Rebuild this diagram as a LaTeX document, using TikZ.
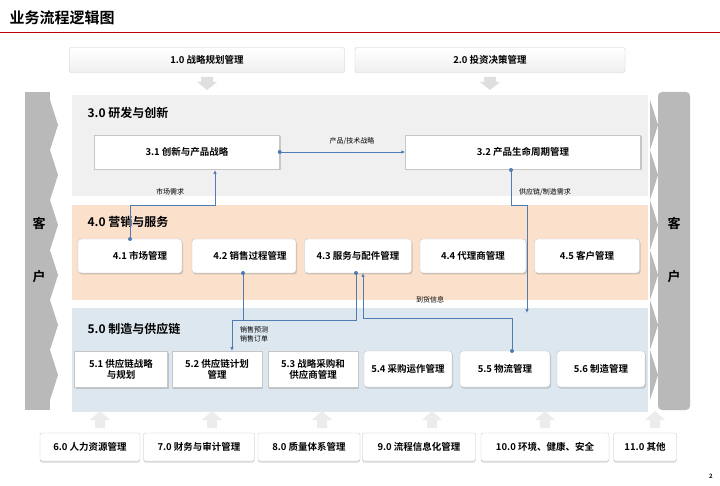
\documentclass[tikz,border=0pt]{standalone}
\usepackage{fontspec}
\setmainfont{Noto Sans CJK SC}[BoldFont={Noto Sans CJK SC Bold}]
\usetikzlibrary{arrows.meta,shadows}
\definecolor{lk}{HTML}{4F7DB3}
\definecolor{peach}{HTML}{FBE0CC}
\definecolor{bluish}{HTML}{DDE7F0}
\definecolor{bandgray}{HTML}{F0F0F0}
\begin{document}
\begin{tikzpicture}[x=1pt,y=-1pt,
  box/.style={draw=gray!45,fill=white,rounded corners=3pt,drop shadow={shadow xshift=1pt,shadow yshift=-1.5pt,opacity=0.35},font=\bfseries\fontsize{9.5}{11}\selectfont,align=center,inner sep=1pt},
  topbox/.style={draw=gray!40,top color=white,bottom color=gray!12,rounded corners=2pt,font=\bfseries\fontsize{9.5}{11}\selectfont},
  btm/.style={draw=gray!40,fill=white,rounded corners=2pt,drop shadow={shadow xshift=0pt,shadow yshift=-1.5pt,opacity=0.3},font=\bfseries\fontsize{9.5}{11}\selectfont,inner sep=1pt},
  btitle/.style={anchor=west,font=\bfseries\fontsize{12}{13}\selectfont},
  lnk/.style={draw=lk,line width=0.8pt},
  arr/.style={lnk,-{Latex[length=4pt,width=3.5pt]}},
  dot/.style={circle,fill=lk,inner sep=0pt,minimum size=4pt},
  lab/.style={font=\fontsize{7}{9}\selectfont,align=left}]
\useasboundingbox (0,0) rectangle (720,486);
\fill[white] (0,0) rectangle (720,486);
\node[anchor=west,font=\bfseries\fontsize{15}{17}\selectfont] (title) at (6,18) {业务流程逻辑图};
\draw[red!75!black,line width=1pt] (0,33) -- (720,33);
% top
\node[topbox,minimum width=275pt,minimum height=25pt] (b1) at (207,60) {1.0 战略规划管理};
\node[topbox,minimum width=270pt,minimum height=25pt] (b2) at (490,60) {2.0 投资决策管理};
\foreach \x in {207,490}{\fill[gray!25] (\x-6,77)--(\x+6,77)--(\x+6,82)--(\x+10,82)--(\x,90)--(\x-10,82)--(\x-6,82)--cycle;}
% customers
\fill[gray!55] (25,92) -- (50,92) -- (50,410) -- (25,410) -- cycle;
\foreach \y in {100,150,200,250,300,350}{\fill[gray!55] (50,\y) -- (58,\y+25) -- (50,\y+50) -- cycle;}
\node[font=\bfseries\fontsize{13}{15}\selectfont,align=center] (c1) at (39,250) {客\\[38pt]户};
\fill[gray!55,rounded corners=4pt] (658,92) rectangle (690,410);
\foreach \y in {100,150,200,250,300,350}{\fill[gray!55] (650,\y) -- (658,\y+25) -- (650,\y+50) -- cycle;}
\node[font=\bfseries\fontsize{13}{15}\selectfont,align=center] (c2) at (674,250) {客\\[38pt]户};
% bands
\fill[bandgray] (72,95) rectangle (648,196);
\fill[peach] (72,205) rectangle (648,300);
\fill[bluish] (72,308) rectangle (648,412);
\node[btitle] (t3) at (84,113) {3.0 研发与创新};
\node[btitle] (t4) at (84,222) {4.0 营销与服务};
\node[btitle] (t5) at (84,329) {5.0 制造与供应链};
% 3.x
\node[box,rounded corners=0pt,minimum width=185pt,minimum height=34pt] (p31) at (187,152) {3.1 创新与产品战略};
\node[box,rounded corners=0pt,minimum width=235pt,minimum height=34pt] (p32) at (523,152) {3.2 产品生命周期管理};
% 4.x
\node[box,minimum width=104pt,minimum height=34pt] (p41) at (130,256) {\hspace{20pt}4.1 市场管理};
\node[box,minimum width=104pt,minimum height=34pt] (p42) at (244,256) {\hspace{12pt}4.2 销售过程管理};
\node[box,minimum width=107pt,minimum height=34pt] (p43) at (358,256) {4.3 服务与配件管理};
\node[box,minimum width=106pt,minimum height=34pt] (p44) at (473,256) {4.4 代理商管理};
\node[box,minimum width=105pt,minimum height=34pt] (p45) at (587,256) {4.5 客户管理};
% 5.x
\node[box,rounded corners=0pt,minimum width=93pt,minimum height=36pt] (p51) at (121,369) {5.1 供应链战略\\与规划};
\node[box,rounded corners=0pt,minimum width=90pt,minimum height=36pt] (p52) at (217,369) {5.2 供应链计划\\管理};
\node[box,rounded corners=0pt,minimum width=90pt,minimum height=36pt] (p53) at (313,369) {5.3 战略采购和\\供应商管理};
\node[box,minimum width=88pt,minimum height=36pt] (p54) at (408,369) {5.4 采购运作管理};
\node[box,minimum width=90pt,minimum height=36pt] (p55) at (505,369) {5.5 物流管理};
\node[box,minimum width=88pt,minimum height=36pt] (p56) at (601,369) {5.6 制造管理};
% up arrows
\foreach \x in {100,212,322,432,545,655}{\fill[gray!15] (\x-5,428)--(\x+5,428)--(\x+5,420)--(\x+10,420)--(\x,411)--(\x-10,420)--(\x-5,420)--cycle;}
% bottom
\node[btm,minimum width=100pt,minimum height=28pt] (q6) at (90,447) {6.0 人力资源管理};
\node[btm,minimum width=111pt,minimum height=28pt] (q7) at (199,447) {7.0 财务与审计管理};
\node[btm,minimum width=102pt,minimum height=28pt] (q8) at (309,447) {8.0 质量体系管理};
\node[btm,minimum width=113pt,minimum height=28pt] (q9) at (419,447) {9.0 流程信息化管理};
\node[btm,minimum width=128pt,minimum height=28pt] (q10) at (545,447) {10.0 环境、健康、安全};
\node[btm,minimum width=63pt,minimum height=28pt] (q11) at (645,447) {11.0 其他};
% connectors
\draw[arr] (p31.east) -- (p32.west);
\node[dot] (d31) at (p31.east) {};
\node[lab] (l1) at (352,141) {产品/技术战略};
\coordinate (a1) at (130,205); \coordinate (a2) at (215,205);
\draw[arr] (130,239) -- (a1) -- (a2) -- (215,170);
\node[dot] (d41) at (130,239) {};
\node[lab] (l2) at (170,192) {市场需求};
\coordinate (b1a) at (511,205); \coordinate (b1b) at (527,205);
\draw[arr] (511,170) -- (b1a) -- (b1b) -- (527,313);
\node[dot] (d32) at (511,170) {};
\node[lab] (l3) at (545,192) {供应链/制造需求};
\draw[arr] (356,273) -- (356,320) -- (232,320) -- (232,351);
\draw[lnk] (243,273) -- (243,320);
\node[dot] (d42) at (243,273) {};
\node[dot] (d43) at (356,273) {};
\node[lab] (l4) at (254,334) {销售预测\\销售订单};
\draw[arr] (512,351) -- (512,318) -- (363,318) -- (363,273);
\node[dot] (d55) at (512,351) {};
\node[lab] (l5) at (430,300) {到货信息};
\node[font=\bfseries\fontsize{6}{7}\selectfont] (pg) at (711,476) {2};
\end{tikzpicture}
\end{document}
